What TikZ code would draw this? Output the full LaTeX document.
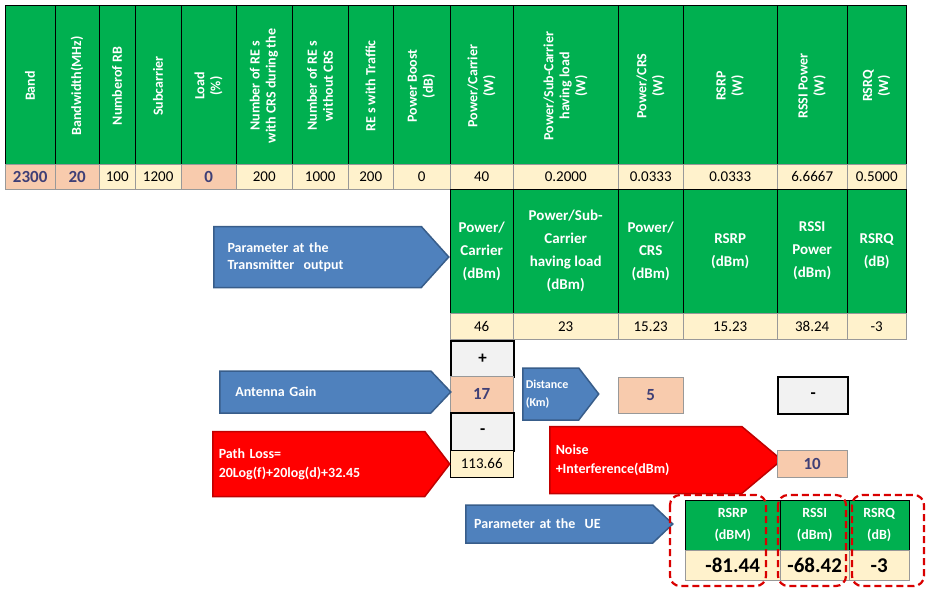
\documentclass[tikz,border=0pt]{standalone}
\usepackage{fontspec}
\setmainfont{Carlito}
\usetikzlibrary{shapes.symbols}
\definecolor{xgreen}{HTML}{00B050}
\definecolor{xyel}{HTML}{FFF2CC}
\definecolor{xor}{HTML}{F8CBAD}
\definecolor{xblue}{HTML}{4F81BD}
\definecolor{xblueb}{HTML}{385D8A}
\definecolor{xredb}{HTML}{C00000}
\definecolor{xnavy}{HTML}{3F3F76}
\definecolor{xgrey}{HTML}{F2F2F2}
\tikzset{
  hdr/.style={draw=black,fill=xgreen,text=white,font=\bfseries\fontsize{14}{16}\selectfont,inner sep=0pt,align=center},
  val/.style={draw=black!40,fill=xyel,font=\fontsize{15}{17}\selectfont,inner sep=0pt},
  oval/.style={draw=black!40,fill=xor,text=xnavy,font=\bfseries\fontsize{17}{19}\selectfont,inner sep=0pt},
  opbox/.style={draw=black,line width=2.2pt,fill=xgrey,font=\bfseries\fontsize{17}{19}\selectfont,inner sep=0pt},
  barrow/.style={signal,signal to=east,draw=xblueb,line width=1.5pt,fill=xblue,text=white,font=\bfseries\fontsize{14}{17}\selectfont,inner sep=6pt,align=left},
  rarrow/.style={signal,signal to=east,draw=xredb,line width=1.5pt,fill=red,text=white,font=\bfseries\fontsize{14}{19}\selectfont,inner sep=6pt,align=left},
  dbox/.style={draw=red!85!black,line width=2.2pt,dashed,dash pattern=on 7pt off 4pt,rounded corners=10pt},
}
\newcommand{\cellbox}[7]{% name, x1,y1,x2,y2, style, text
  \node[#6,anchor=north west,minimum width={(#4-#2)*1pt},minimum height={(#5-#3)*1pt}] (#1) at (#2,#3) {#7};}
\begin{document}
\begin{tikzpicture}[x=1pt,y=-1pt]
\useasboundingbox (0,0) rectangle (931,594);
% top header
\foreach \n/\a/\b/\t in {1/5/55/Band,2/55/99/Bandwidth(MHz),3/99/135/Numberof RB,4/135/181/Subcarrier,5/181/236/{Load\\(\%)},6/236/292/{Number of RE s\\with CRS during the},7/292/348/{Number of RE s\\without CRS},8/348/393/RE s with Traffic,9/393/450/{Power Boost\\(dB)},10/450/513/{Power/Carrier\\(W)},11/513/618/{Power/Sub-Carrier\\having load\\(W)},12/618/683/{Power/CRS\\(W)},13/683/777/{RSRP\\(W)},14/777/847/{RSSI Power\\(W)},15/847/906/{RSRQ\\(W)}}{
  \draw[fill=xgreen] (\a,5) rectangle (\b,164);
  \node[hdr,draw=none,fill=none,rotate=90] (h\n) at ({(\a+\b)/2},86) {\t};
}
% top values
\foreach \n/\a/\b/\t/\s in {1/5/55/2300/oval,2/55/99/20/oval,3/99/135/100/val,4/135/181/1200/val,5/181/236/0/oval,6/236/292/200/val,7/292/348/1000/val,8/348/393/200/val,9/393/450/0/val,10/450/513/40/val,11/513/618/0.2000/val,12/618/683/0.0333/val,13/683/777/0.0333/val,14/777/847/6.6667/val,15/847/906/0.5000/val}{
  \cellbox{v\n}{\a}{164}{\b}{189}{\s}{\t}
}
% second table
\foreach \n/\a/\b/\t in {1/450/513/{Power/\\Carrier\\(dBm)},2/513/618/{Power/Sub-\\Carrier\\having load\\(dBm)},3/618/683/{Power/\\CRS\\(dBm)},4/683/777/{RSRP\\(dBm)},5/777/847/{RSSI\\Power\\(dBm)},6/847/906/{RSRQ\\(dB)}}{
  \cellbox{t\n}{\a}{189}{\b}{313}{hdr,font=\bfseries\fontsize{15}{23}\selectfont}{\t}
}
\foreach \n/\a/\b/\t in {1/450/513/46,2/513/618/23,3/618/683/15.23,4/683/777/15.23,5/777/847/38.24,6/847/906/-3}{
  \cellbox{d\n}{\a}{313}{\b}{339}{val}{\t}
}
\node[barrow,anchor=west,minimum width=235,minimum height=61,text width=180,signal pointer angle=96] (tx) at (213,257) {Parameter at the\\Transmitter\ \ output};
% middle column
\cellbox{plus}{450}{340}{513}{376}{opbox}{+}
\cellbox{gain}{450}{376}{513}{412}{oval}{17}
\cellbox{minus}{450}{412}{513}{450}{opbox}{-}
\cellbox{pl}{450}{450}{513}{477}{val,draw=black}{113.66}
\node[barrow,anchor=west,minimum width=231,minimum height=42,text width=180,signal pointer angle=93] (ag) at (219,392) {Antenna Gain};
\node[barrow,anchor=west,minimum width=75,minimum height=52,text width=50,signal pointer angle=105,font=\bfseries\fontsize{12}{18}\selectfont,inner sep=3pt] (dist) at (522,394) {Distance\\(Km)};
\cellbox{dval}{618}{377}{683}{413}{oval}{5}
\cellbox{minus2}{777}{376}{847}{413}{opbox}{-}
\node[rarrow,anchor=west,minimum width=231,minimum height=65,text width=200,signal pointer angle=105] (ploss) at (212,464) {Path Loss=\\20Log(f)+20log(d)+32.45};
\node[rarrow,anchor=west,minimum width=226,minimum height=67,text width=180,signal pointer angle=80] (noise) at (549,460) {Noise\\+Interference(dBm)};
\cellbox{nval}{777}{450}{847}{477}{oval}{10}
\node[barrow,anchor=west,minimum width=207,minimum height=38,text width=170,signal pointer angle=87] (ue) at (465,524) {Parameter at the\ \ UE};
% UE table
\foreach \n/\a/\b/\t/\v in {1/685/780/{RSRP\\(dBM)}/-81.44,2/780/849/{RSSI\\(dBm)}/-68.42,3/849/909/{RSRQ\\(dB)}/-3}{
  \cellbox{u\n}{\a}{500}{\b}{550}{hdr,font=\bfseries\fontsize{14}{22}\selectfont}{\t}
  \cellbox{w\n}{\a}{550}{\b}{580}{val,font=\bfseries\fontsize{21}{23}\selectfont}{\v}
}
\draw[dbox] (670,495) rectangle (766,586);
\draw[dbox] (778,495) rectangle (846,586);
\draw[dbox] (852,495) rectangle (924,586);
\end{tikzpicture}
\end{document}
